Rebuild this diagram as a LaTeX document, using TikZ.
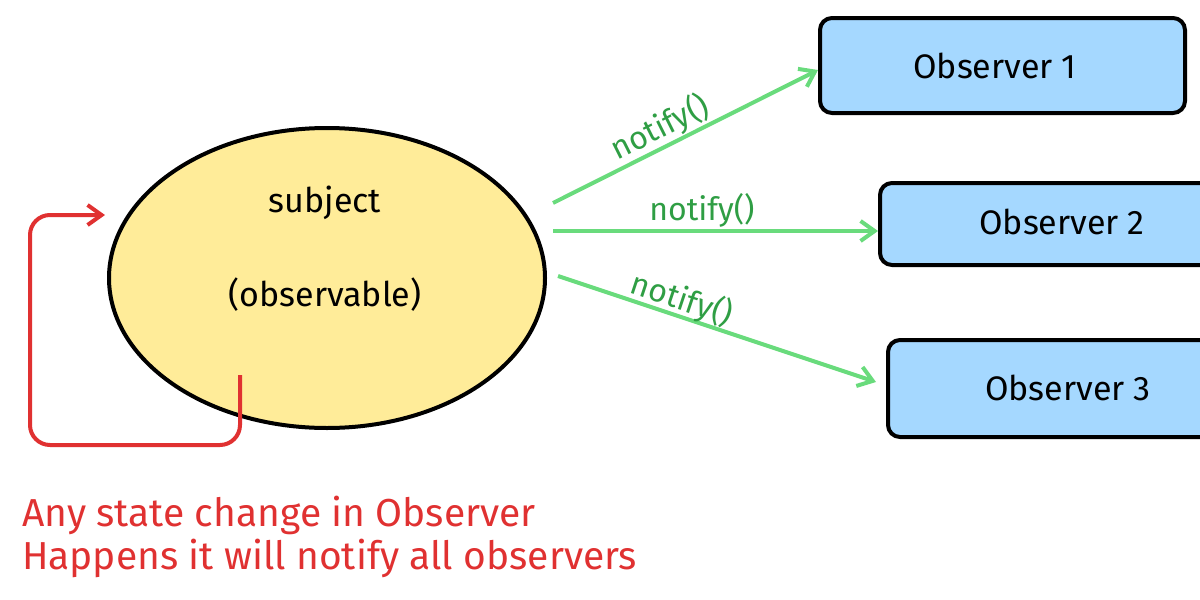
\documentclass[tikz,border=0pt]{standalone}
\usepackage{fontspec}
\setmainfont{Fira Sans}
\usetikzlibrary{arrows.meta}
\definecolor{ell}{HTML}{FFEC99}
\definecolor{box}{HTML}{A5D8FF}
\definecolor{grn}{HTML}{69DB7C}
\definecolor{dgrn}{HTML}{2F9E44}
\definecolor{rd}{HTML}{E03131}
\begin{document}
\begin{tikzpicture}[x=0.5pt,y=-0.5pt,
 obs/.style={draw=black,line width=2pt,fill=box,rounded corners=6pt},
 garr/.style={draw=grn,line width=2pt,-{Straight Barb[length=7pt,width=10pt]}},
 lbl/.style={text=dgrn,font=\fontsize{16}{19}\selectfont,inner sep=0pt},
 txt/.style={font=\fontsize{17}{20}\selectfont}]
\useasboundingbox (0,0) rectangle (1200,600);
\path[draw=black,line width=2pt,fill=ell] (327,278) ellipse [x radius=218,y radius=150];
\node[txt] (t1) at (325,203) {subject};
\node[txt] (t2) at (325,295) {(observable)};
\path[obs] (820,18) rectangle (1185,113);
\node[txt] (o1) at (995,66) {Observer 1};
\path[obs] (880,183) rectangle (1215,265);
\node[txt] (o2) at (1062,222) {Observer 2};
\path[obs] (888,340) rectangle (1215,437);
\node[txt] (o3) at (1068,388) {Observer 3};
\coordinate (a1) at (553,203); \coordinate (b1) at (818,70);
\coordinate (a2) at (553,231); \coordinate (b2) at (878,231);
\coordinate (a3) at (558,276); \coordinate (b3) at (876,382);
\draw[garr] (a1) -- (b1);
\draw[garr] (a2) -- (b2);
\draw[garr] (a3) -- (b3);
\node[lbl,rotate=26.6] (l1) at (660,128) {notify()};
\node[lbl] (l2) at (702,210) {notify()};
\node[lbl,rotate=-18.4] (l3) at (682,300) {notify()};
\coordinate (r0) at (240,375); \coordinate (r1) at (240,445);
\coordinate (r2) at (30,445); \coordinate (r3) at (30,215); \coordinate (r4) at (105,215);
\draw[rd,line width=2pt,rounded corners=10pt,-{Straight Barb[length=7pt,width=10pt]}] (r0) -- (r1) -- (r2) -- (r3) -- (r4);
\node[text=rd,anchor=west,align=left,font=\fontsize{19.5}{21.5}\selectfont] (note) at (15,537) {Any state change in Observer\\Happens it will notify all observers};
\end{tikzpicture}
\end{document}
